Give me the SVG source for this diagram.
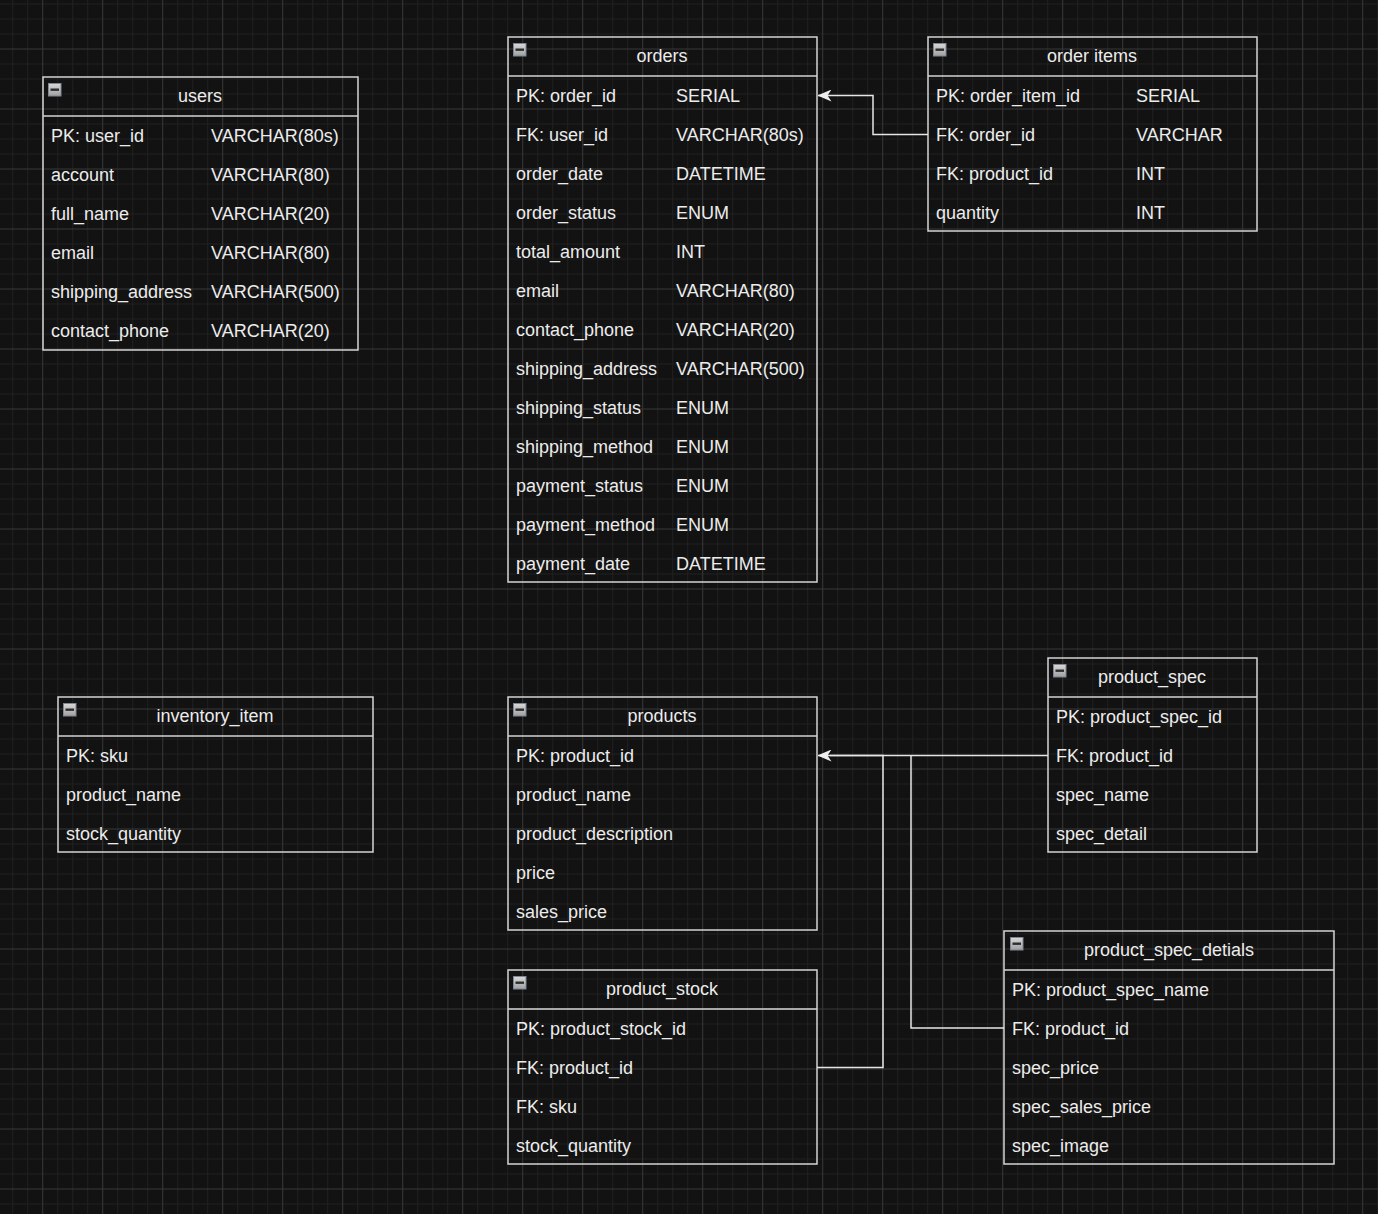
<svg xmlns="http://www.w3.org/2000/svg" width="1378" height="1214" viewBox="0 0 1378 1214">
<defs>
<pattern id="grid" x="42.2" y="48.5" width="60" height="60" patternUnits="userSpaceOnUse">
<path d="M15.5 0V60M30.5 0V60M45.5 0V60M0 15.5H60M0 30.5H60M0 45.5H60" stroke="#202020" stroke-width="1" fill="none"/>
<path d="M0.5 0V60M0 0.5H60" stroke="#383838" stroke-width="1" fill="none"/>
</pattern>
<linearGradient id="ig" x1="0" y1="0" x2="0" y2="1">
<stop offset="0" stop-color="#d8d8d8"/>
<stop offset="1" stop-color="#a0a0a0"/>
</linearGradient>
<marker id="arr" viewBox="0 0 14 12" refX="13.5" refY="6" markerWidth="14" markerHeight="12" markerUnits="userSpaceOnUse" orient="auto">
<path d="M14 6L0 0L4 6L0 12Z" fill="#eeeeee"/>
</marker>
<g id="icon"><rect x="0.5" y="0.5" width="12.5" height="12.5" fill="url(#ig)" stroke="#7d8796" stroke-width="1"/><rect x="2.5" y="5.5" width="8.5" height="2.4" fill="#2e2e2e"/></g>
</defs>
<style>
.t{fill:none;stroke:#d4d4d4;stroke-width:1.5}
.tx{font-family:"Liberation Sans",Arial,sans-serif;font-size:18px;fill:#ececec;dominant-baseline:central}
.h{text-anchor:middle}
.c{fill:none;stroke:#e6e6e6;stroke-width:1.5}
</style>
<rect width="1378" height="1214" fill="#121212"/>
<rect width="1378" height="1214" fill="url(#grid)"/>

<g id="users">
<rect class="t" x="43" y="77" width="315" height="273"/>
<line class="t" x1="43" y1="116" x2="358" y2="116"/>
<use href="#icon" x="48" y="83"/>
<text class="tx h" x="200" y="96">users</text>
<text class="tx" x="51" y="135.5">PK: user_id</text><text class="tx" x="211" y="135.5">VARCHAR(80s)</text>
<text class="tx" x="51" y="174.5">account</text><text class="tx" x="211" y="174.5">VARCHAR(80)</text>
<text class="tx" x="51" y="213.5">full_name</text><text class="tx" x="211" y="213.5">VARCHAR(20)</text>
<text class="tx" x="51" y="252.5">email</text><text class="tx" x="211" y="252.5">VARCHAR(80)</text>
<text class="tx" x="51" y="291.5">shipping_address</text><text class="tx" x="211" y="291.5">VARCHAR(500)</text>
<text class="tx" x="51" y="330.5">contact_phone</text><text class="tx" x="211" y="330.5">VARCHAR(20)</text>
</g>

<g id="orders">
<rect class="t" x="508" y="37" width="309" height="545"/>
<line class="t" x1="508" y1="76" x2="817" y2="76"/>
<use href="#icon" x="513" y="43"/>
<text class="tx h" x="662" y="56">orders</text>
<text class="tx" x="516" y="95.5">PK: order_id</text><text class="tx" x="676" y="95.5">SERIAL</text>
<text class="tx" x="516" y="134.5">FK: user_id</text><text class="tx" x="676" y="134.5">VARCHAR(80s)</text>
<text class="tx" x="516" y="173.5">order_date</text><text class="tx" x="676" y="173.5">DATETIME</text>
<text class="tx" x="516" y="212.5">order_status</text><text class="tx" x="676" y="212.5">ENUM</text>
<text class="tx" x="516" y="251.5">total_amount</text><text class="tx" x="676" y="251.5">INT</text>
<text class="tx" x="516" y="290.5">email</text><text class="tx" x="676" y="290.5">VARCHAR(80)</text>
<text class="tx" x="516" y="329.5">contact_phone</text><text class="tx" x="676" y="329.5">VARCHAR(20)</text>
<text class="tx" x="516" y="368.5">shipping_address</text><text class="tx" x="676" y="368.5">VARCHAR(500)</text>
<text class="tx" x="516" y="407.5">shipping_status</text><text class="tx" x="676" y="407.5">ENUM</text>
<text class="tx" x="516" y="446.5">shipping_method</text><text class="tx" x="676" y="446.5">ENUM</text>
<text class="tx" x="516" y="485.5">payment_status</text><text class="tx" x="676" y="485.5">ENUM</text>
<text class="tx" x="516" y="524.5">payment_method</text><text class="tx" x="676" y="524.5">ENUM</text>
<text class="tx" x="516" y="563.5">payment_date</text><text class="tx" x="676" y="563.5">DATETIME</text>
</g>

<g id="order_items">
<rect class="t" x="928" y="37" width="329" height="194"/>
<line class="t" x1="928" y1="76" x2="1257" y2="76"/>
<use href="#icon" x="933" y="43"/>
<text class="tx h" x="1092" y="56">order items</text>
<text class="tx" x="936" y="95.5">PK: order_item_id</text><text class="tx" x="1136" y="95.5">SERIAL</text>
<text class="tx" x="936" y="134.5">FK: order_id</text><text class="tx" x="1136" y="134.5">VARCHAR</text>
<text class="tx" x="936" y="173.5">FK: product_id</text><text class="tx" x="1136" y="173.5">INT</text>
<text class="tx" x="936" y="212.5">quantity</text><text class="tx" x="1136" y="212.5">INT</text>
</g>

<g id="inventory_item">
<rect class="t" x="58" y="697" width="315" height="155"/>
<line class="t" x1="58" y1="736" x2="373" y2="736"/>
<use href="#icon" x="63" y="703"/>
<text class="tx h" x="215" y="716">inventory_item</text>
<text class="tx" x="66" y="755.5">PK: sku</text>
<text class="tx" x="66" y="794.5">product_name</text>
<text class="tx" x="66" y="833.5">stock_quantity</text>
</g>

<g id="products">
<rect class="t" x="508" y="697" width="309" height="233"/>
<line class="t" x1="508" y1="736" x2="817" y2="736"/>
<use href="#icon" x="513" y="703"/>
<text class="tx h" x="662" y="716">products</text>
<text class="tx" x="516" y="755.5">PK: product_id</text>
<text class="tx" x="516" y="794.5">product_name</text>
<text class="tx" x="516" y="833.5">product_description</text>
<text class="tx" x="516" y="872.5">price</text>
<text class="tx" x="516" y="911.5">sales_price</text>
</g>

<g id="product_stock">
<rect class="t" x="508" y="970" width="309" height="194"/>
<line class="t" x1="508" y1="1009" x2="817" y2="1009"/>
<use href="#icon" x="513" y="976"/>
<text class="tx h" x="662" y="989">product_stock</text>
<text class="tx" x="516" y="1028.5">PK: product_stock_id</text>
<text class="tx" x="516" y="1067.5">FK: product_id</text>
<text class="tx" x="516" y="1106.5">FK: sku</text>
<text class="tx" x="516" y="1145.5">stock_quantity</text>
</g>

<g id="product_spec">
<rect class="t" x="1048" y="658" width="209" height="194"/>
<line class="t" x1="1048" y1="697" x2="1257" y2="697"/>
<use href="#icon" x="1053" y="664"/>
<text class="tx h" x="1152" y="677">product_spec</text>
<text class="tx" x="1056" y="716.5">PK: product_spec_id</text>
<text class="tx" x="1056" y="755.5">FK: product_id</text>
<text class="tx" x="1056" y="794.5">spec_name</text>
<text class="tx" x="1056" y="833.5">spec_detail</text>
</g>

<g id="product_spec_detials">
<rect class="t" x="1004" y="931" width="330" height="233"/>
<line class="t" x1="1004" y1="970" x2="1334" y2="970"/>
<use href="#icon" x="1010" y="937"/>
<text class="tx h" x="1169" y="950">product_spec_detials</text>
<text class="tx" x="1012" y="989.5">PK: product_spec_name</text>
<text class="tx" x="1012" y="1028.5">FK: product_id</text>
<text class="tx" x="1012" y="1067.5">spec_price</text>
<text class="tx" x="1012" y="1106.5">spec_sales_price</text>
<text class="tx" x="1012" y="1145.5">spec_image</text>
</g>

<g id="connectors">
<path class="c" d="M928 134.5H873V95.5H818" marker-end="url(#arr)"/>
<path class="c" d="M1048 755.5H818" marker-end="url(#arr)"/>
<path class="c" d="M817 1067.5H883V755.5H830"/>
<path class="c" d="M1004 1028H911V755.5"/>
</g>
</svg>
